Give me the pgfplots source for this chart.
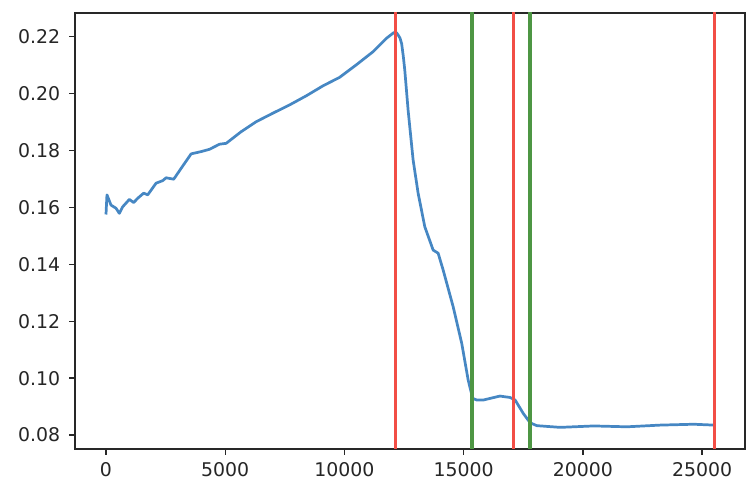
\documentclass[border=0pt]{standalone}
\usepackage{fontspec}
\setmainfont{DejaVu Sans}
\usepackage{pgfplots}
\pgfplotsset{compat=1.18}

\definecolor{lineblue}{RGB}{70,135,195}
\definecolor{redline}{RGB}{242,78,70}
\definecolor{greenline}{RGB}{78,150,68}
\definecolor{framegray}{RGB}{40,40,40}

\pgfplotstableread{
x y
0 0.1575
40 0.1644
210 0.1608
420 0.1597
560 0.1579
700 0.1602
980 0.1628
1160 0.1617
1330 0.1632
1580 0.1650
1750 0.1644
2100 0.1685
2380 0.1694
2520 0.1704
2840 0.1699
3150 0.1737
3570 0.1788
3990 0.1796
4340 0.1804
4760 0.1822
5040 0.1825
5670 0.1866
6300 0.1901
7000 0.1931
7700 0.1960
8400 0.1992
9100 0.2027
9800 0.2057
10500 0.2101
11200 0.2147
11760 0.2194
12070 0.2214
12180 0.2214
12250 0.2206
12330 0.2195
12400 0.2175
12470 0.2130
12530 0.2083
12670 0.1942
12880 0.1767
13090 0.1650
13370 0.1532
13720 0.1450
13930 0.1439
14140 0.1380
14560 0.1251
14920 0.1122
15190 0.0993
15380 0.0929
15550 0.0923
15820 0.0923
16520 0.0937
16950 0.0932
17160 0.0923
17500 0.0876
17790 0.0843
18070 0.0833
19050 0.0827
20450 0.0832
21850 0.0829
23250 0.0835
24650 0.0838
25490 0.0835
}\curve

\pgfplotstableread{
x lo hi
12150 0.07 0.23
17100 0.07 0.23
25520 0.07 0.23
}\redmarks

\pgfplotstableread{
x lo hi
15350 0.07 0.23
17780 0.07 0.23
}\greenmarks

\begin{document}
\fontsize{11.8}{13}\selectfont
\begin{tikzpicture}
\useasboundingbox (-46.875pt,-29.375pt) rectangle (425.625pt,280.625pt);
\begin{axis}[
    scale only axis,
    width=418.75pt,
    height=272.5pt,
    xmin=-1300, xmax=26800,
    ymin=0.0751, ymax=0.2283,
    xtick={0,5000,10000,15000,20000,25000},
    ytick={0.08,0.10,0.12,0.14,0.16,0.18,0.20,0.22},
    scaled x ticks=false,
    scaled y ticks=false,
    /pgf/number format/assume math mode=true,
    xticklabel style={/pgf/number format/1000 sep={}, text=black!85, yshift=-1pt},
    yticklabel style={/pgf/number format/.cd, fixed, fixed zerofill, precision=2, /tikz/.cd, text=black!85, xshift=-1.5pt},
    tick align=outside,
    tick pos=left,
    major tick length=3.6pt,
    tick style={framegray, line width=0.8pt},
    axis line style={framegray, line width=0.8pt},
    clip=true,
]
\addplot[lineblue, line width=1.7pt, line join=round] table {\curve};
% vertical markers
\addplot[redline, line width=2.1pt, ycomb, mark=none] table[x=x, y=hi] {\redmarks};
\addplot[greenline, line width=2.1pt, ycomb, mark=none] table[x=x, y=hi] {\greenmarks};
\end{axis}
\end{tikzpicture}
\end{document}
